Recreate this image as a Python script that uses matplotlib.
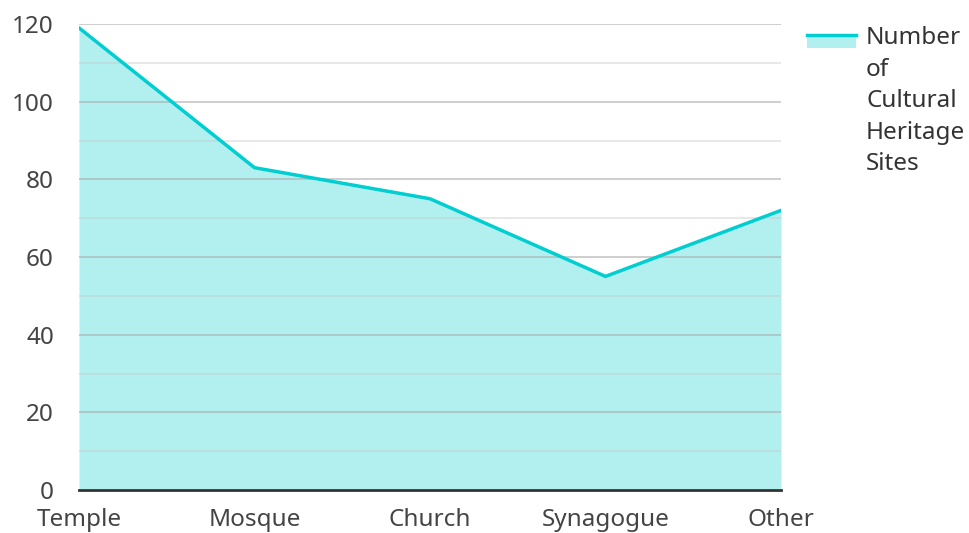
import matplotlib.pyplot as plt
from matplotlib.lines import Line2D
from matplotlib.patches import Rectangle

plt.rcParams['font.family'] = ['Noto Sans', 'DejaVu Sans']

# data
categories = ['Temple', 'Mosque', 'Church', 'Synagogue', 'Other']
site_counts = [119, 83, 75, 55, 72]
series_name = 'Number\nof\nCultural\nHeritage\nSites'

line_color = '#00CED1'
fill_color = '#B2EFEF'
text_color = '#444444'

fig = plt.figure(figsize=(9.7, 5.33), dpi=100)
ax = fig.add_axes([79 / 970, 1 - 490 / 533, 702 / 970, 466 / 533])

x = list(range(len(categories)))
ax.fill_between(x, 0, site_counts, color=fill_color, lw=0, zorder=1)
ax.plot(x, site_counts, color=line_color, lw=2.5, zorder=3, solid_capstyle='round')

ax.set_xlim(0, len(categories) - 1)
ax.set_ylim(0, 120)
ax.set_yticks(range(0, 121, 20))
ax.set_xticks(x)
ax.set_xticklabels(categories)

# gridlines drawn over the translucent fill
for v in range(20, 121, 20):
    ax.axhline(v, color='#a8a8a8', lw=1.3, alpha=0.6, zorder=2)
for v in range(10, 120, 20):
    ax.axhline(v, color='#c8c8c8', lw=1.3, alpha=0.45, zorder=2)

for s in ['top', 'right', 'left']:
    ax.spines[s].set_visible(False)
ax.spines['bottom'].set_color('#333333')
ax.spines['bottom'].set_linewidth(2)
ax.spines['bottom'].set_zorder(4)

ax.tick_params(axis='both', which='both', length=0, labelsize=17.5, colors=text_color)
ax.tick_params(axis='y', pad=18)
ax.tick_params(axis='x', pad=13)

# legend drawn by hand on the right
fig.add_artist(Rectangle((807 / 970, 1 - 48 / 533), 49 / 970, 13 / 533,
                         transform=fig.transFigure, color=fill_color, lw=0))
fig.add_artist(Line2D([807 / 970, 856 / 970], [1 - 35 / 533, 1 - 35 / 533],
                      transform=fig.transFigure, color=line_color, lw=2.5))
fig.text(866 / 970, 1 - 26 / 533, series_name, ha='left', va='top',
         fontsize=17.5, color='#333333', linespacing=1.42)

fig.savefig('out.png', dpi=100, facecolor='white')
